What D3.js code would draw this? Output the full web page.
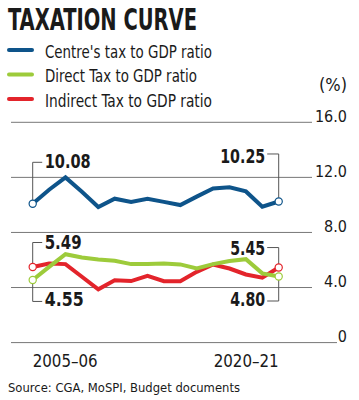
<!DOCTYPE html>
<html>
<head>
<meta charset="utf-8">
<script src="https://cdn.jsdelivr.net/npm/d3@7"></script>
<style>
  body { margin: 0; background: #fff; }
  svg text { font-family: "DejaVu Sans", sans-serif; font-stretch: condensed; fill: #1a1a1a; }
</style>
</head>
<body>
<div id="chart"></div>
<script>
var W = 359, H = 400;

// fiscal years 2005-06 .. 2020-21
var years = ["2005-06","2006-07","2007-08","2008-09","2009-10","2010-11","2011-12","2012-13",
             "2013-14","2014-15","2015-16","2016-17","2017-18","2018-19","2019-20","2020-21"];
var centreTax   = [10.08, 11.1, 12.0, 10.95, 9.85, 10.45, 10.22, 10.45, 10.22, 9.99, 10.6, 11.2, 11.28, 10.98, 9.87, 10.25];
var directTax   = [4.55, 5.5, 6.42, 6.18, 6.04, 5.94, 5.7, 5.7, 5.74, 5.68, 5.39, 5.7, 5.92, 6.06, 5.03, 4.80];
var indirectTax = [5.49, 5.74, 5.7, 4.78, 3.87, 4.52, 4.47, 4.85, 4.46, 4.45, 5.14, 5.67, 5.38, 4.95, 4.71, 5.45];
var yTicks = [0, 4, 8, 12, 16];
var xTickLabels = ["2005\u201306", "2020\u201321"];

var series = [
  {name: "Centre's tax to GDP ratio", values: centreTax, color: "#0e548a"},
  {name: "Direct Tax to GDP ratio", values: directTax, color: "#9dcb3b"},
  {name: "Indirect Tax to GDP ratio", values: indirectTax, color: "#e3242b"}
];

var svg = d3.select("#chart").append("svg")
    .attr("width", W).attr("height", H);

var x = d3.scaleLinear().domain([0, years.length - 1]).range([32.7, 278.7]);
var y = d3.scaleLinear().domain([0, 16]).range([342.6, 122.3]);

// title
svg.append("text")
    .attr("x", 8).attr("y", 30)
    .attr("font-size", 30).attr("font-weight", "bold")
    .attr("textLength", 189).attr("lengthAdjust", "spacingAndGlyphs")
    .text("TAXATION CURVE");

// legend
var legendW = [167, 152, 167];
var leg = svg.append("g").selectAll("g").data(series).enter().append("g")
    .attr("transform", function(d, i) { return "translate(0," + (50 + i * 24.5) + ")"; });
leg.append("line")
    .attr("x1", 9).attr("x2", 32)
    .attr("stroke", function(d) { return d.color; })
    .attr("stroke-width", 4).attr("stroke-linecap", "round");
leg.append("text")
    .attr("x", 45).attr("y", 7.5)
    .attr("font-size", 18)
    .attr("textLength", function(d, i) { return legendW[i]; })
    .attr("lengthAdjust", "spacingAndGlyphs")
    .text(function(d) { return d.name; });

svg.append("text")
    .attr("x", 347).attr("y", 91)
    .attr("text-anchor", "end").attr("font-size", 18)
    .text("(%)");

// gridlines + y labels
var grid = svg.append("g").selectAll("g").data(yTicks).enter().append("g");
grid.append("text")
    .attr("x", 347).attr("y", function(d) { return y(d) - 0.5; })
    .attr("text-anchor", "end").attr("font-size", 16)
    .text(function(d) { return d === 0 ? "0" : d3.format(".1f")(d); });
grid.append("line")
    .attr("x1", 11)
    .attr("x2", function(d) { return d === 0 ? 337 : 312; })
    .attr("y1", function(d) { return y(d); })
    .attr("y2", function(d) { return y(d); })
    .attr("stroke", "#777").attr("stroke-width", 1);

// x labels
svg.append("text")
    .attr("x", x(0)).attr("y", 367).attr("font-size", 18)
    .attr("textLength", 65).attr("lengthAdjust", "spacingAndGlyphs")
    .text(xTickLabels[0]);
svg.append("text")
    .attr("x", x(years.length - 1)).attr("y", 367).attr("font-size", 18)
    .attr("text-anchor", "end")
    .attr("textLength", 65).attr("lengthAdjust", "spacingAndGlyphs")
    .text(xTickLabels[1]);

// lines
var line = d3.line()
    .x(function(d, i) { return x(i); })
    .y(function(d) { return y(d); });

svg.append("g").selectAll("path").data([series[0], series[2], series[1]]).enter().append("path")
    .attr("d", function(d) { return line(d.values); })
    .attr("fill", "none")
    .attr("stroke", function(d) { return d.color; })
    .attr("stroke-width", 4)
    .attr("stroke-linejoin", "miter");

// callouts: [series index, point index, bracket y offset from point, text baseline offset from bracket, text width]
var callouts = [
  {s: 0, i: 0,  dy: -41.5, tb: 5.5, w: 46},
  {s: 0, i: 15, dy: -47.5, tb: 9.5, w: 45},
  {s: 2, i: 0,  dy: -24.5, tb: 6.3, w: 37},
  {s: 1, i: 0,  dy: 21.5,  tb: 4.5, w: 39},
  {s: 2, i: 15, dy: -20,   tb: 7,   w: 35},
  {s: 1, i: 15, dy: 24.5,  tb: 5.3, w: 35}
];

var cg = svg.append("g");
callouts.forEach(function(c) {
  var v = series[c.s].values[c.i];
  var px = x(c.i), py = y(v), by = py + c.dy;
  var left = c.i === 0;
  var ex = left ? px + 9.5 : px - 11.5;
  cg.append("path")
    .attr("d", "M" + px + "," + py + "V" + by + "H" + ex)
    .attr("fill", "none").attr("stroke", "#555").attr("stroke-width", 1);
  cg.append("text")
    .attr("x", left ? ex + 2.5 : ex - 2)
    .attr("y", by + c.tb)
    .attr("text-anchor", left ? "start" : "end")
    .attr("font-size", 20).attr("font-weight", "bold")
    .attr("textLength", c.w).attr("lengthAdjust", "spacingAndGlyphs")
    .text(d3.format(".2f")(v));
});

// end circles
series.forEach(function(s) {
  [0, s.values.length - 1].forEach(function(i) {
    cg.append("circle")
      .attr("cx", x(i)).attr("cy", y(s.values[i])).attr("r", 3.6)
      .attr("fill", "#fff").attr("stroke", s.color).attr("stroke-width", 1.2);
  });
});

// source
svg.append("text")
    .attr("x", 8).attr("y", 392).attr("font-size", 13)
    .attr("textLength", 232).attr("lengthAdjust", "spacingAndGlyphs")
    .text("Source: CGA, MoSPI, Budget documents");
</script>
</body>
</html>
